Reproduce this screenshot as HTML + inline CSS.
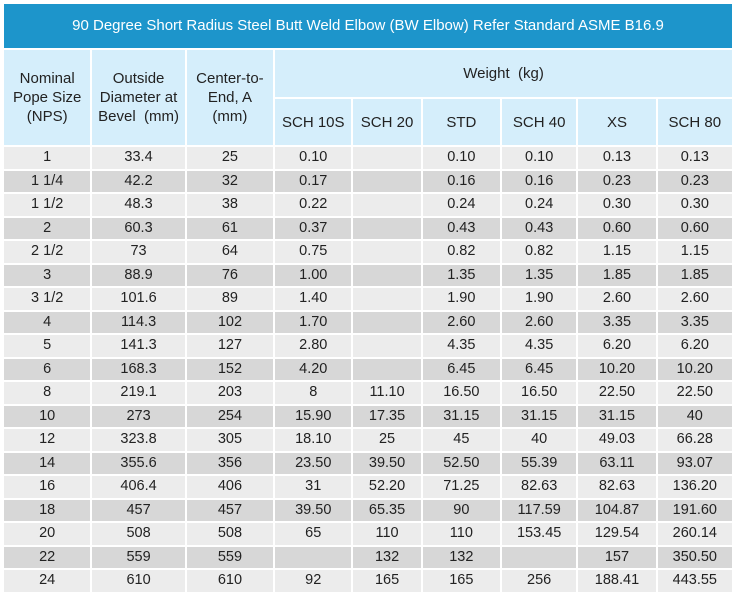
<!DOCTYPE html>
<html><head><meta charset="utf-8"><style>
body{margin:0;width:736px;height:595px;background:#fff;overflow:hidden;font-family:"Liberation Sans",sans-serif;position:relative}
#title{position:absolute;left:4px;top:4px;width:728px;height:44px;background:#1d95cb;color:#fff;font-size:15px;line-height:44px;text-align:center}
table{position:absolute;left:2px;top:48px;border-collapse:separate;border-spacing:2px;table-layout:fixed;width:732px}
td,th{padding:0;text-align:center;color:#222;font-size:14.5px;font-weight:normal}
th{background:#d5eefb;line-height:19px;font-size:15px}
tr.h1 th{height:47px}
tr.h2 th{height:46px}
tbody td{height:21.5px;line-height:21px}
tbody tr:nth-child(odd) td{background:#ececec}
tbody tr:nth-child(even) td{background:#d7d7d7}
</style></head><body>
<div id="title">90 Degree Short Radius Steel Butt Weld Elbow (BW Elbow) Refer Standard ASME B16.9</div>
<table>
<colgroup><col style="width:86px"><col style="width:92px"><col style="width:86px"><col style="width:76px"><col style="width:67px"><col style="width:77px"><col style="width:74px"><col style="width:77px"><col style="width:74px"></colgroup>
<thead>
<tr class="h1"><th rowspan="2">Nominal<br>Pope Size<br>(NPS)</th><th rowspan="2">Outside<br>Diameter at<br>Bevel&nbsp; (mm)</th><th rowspan="2">Center-to-<br>End, A<br>(mm)</th><th colspan="6">Weight&nbsp; (kg)</th></tr>
<tr class="h2"><th>SCH 10S</th><th>SCH 20</th><th>STD</th><th>SCH 40</th><th>XS</th><th>SCH 80</th></tr>
</thead>
<tbody id="tb"></tbody>
</table>
<script>
const rows=[
["1","33.4","25","0.10","","0.10","0.10","0.13","0.13"],
["1 1/4","42.2","32","0.17","","0.16","0.16","0.23","0.23"],
["1 1/2","48.3","38","0.22","","0.24","0.24","0.30","0.30"],
["2","60.3","61","0.37","","0.43","0.43","0.60","0.60"],
["2 1/2","73","64","0.75","","0.82","0.82","1.15","1.15"],
["3","88.9","76","1.00","","1.35","1.35","1.85","1.85"],
["3 1/2","101.6","89","1.40","","1.90","1.90","2.60","2.60"],
["4","114.3","102","1.70","","2.60","2.60","3.35","3.35"],
["5","141.3","127","2.80","","4.35","4.35","6.20","6.20"],
["6","168.3","152","4.20","","6.45","6.45","10.20","10.20"],
["8","219.1","203","8","11.10","16.50","16.50","22.50","22.50"],
["10","273","254","15.90","17.35","31.15","31.15","31.15","40"],
["12","323.8","305","18.10","25","45","40","49.03","66.28"],
["14","355.6","356","23.50","39.50","52.50","55.39","63.11","93.07"],
["16","406.4","406","31","52.20","71.25","82.63","82.63","136.20"],
["18","457","457","39.50","65.35","90","117.59","104.87","191.60"],
["20","508","508","65","110","110","153.45","129.54","260.14"],
["22","559","559","","132","132","","157","350.50"],
["24","610","610","92","165","165","256","188.41","443.55"]];
const tb=document.getElementById('tb');
rows.forEach(r=>{const tr=document.createElement('tr');


r.forEach(v=>{const td=document.createElement('td');td.textContent=v;


tr.appendChild(td);});tb.appendChild(tr);});
</script>
</body></html>
